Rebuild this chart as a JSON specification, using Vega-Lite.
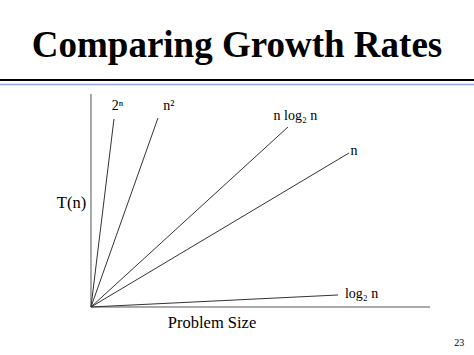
{
  "$schema": "https://vega.github.io/schema/vega-lite/v6.json",
  "width": 474,
  "height": 355,
  "padding": 0,
  "autosize": {"type": "none"},
  "background": "white",
  "title": {
    "text": "Comparing Growth Rates",
    "font": "Liberation Serif",
    "fontSize": 37,
    "fontWeight": "bold",
    "color": "black",
    "anchor": "middle",
    "baseline": "alphabetic",
    "offset": -94
  },
  "config": {"view": {"stroke": null}},
  "layer": [
    {
      "data": {"values": [{"y": 106.57}]},
      "mark": {"type": "rule", "color": "black", "strokeWidth": 2},
      "encoding": {
        "y": {"field": "y", "type": "quantitative", "scale": {"domain": [-22.54, 144.13], "nice": false, "zero": false}, "axis": null}
      }
    },
    {
      "data": {"values": [{"y": 104.46}]},
      "mark": {"type": "rule", "color": "#98a4e0", "strokeWidth": 1.5},
      "encoding": {
        "y": {"field": "y", "type": "quantitative"}
      }
    },
    {
      "data": {"values": [
        {"part": "T(n) axis", "x": 0, "y": 0, "x2": 0, "y2": 100},
        {"part": "Problem Size axis", "x": 0, "y": 0, "x2": 100, "y2": 0}
      ]},
      "mark": {"type": "rule", "color": "#555555", "strokeWidth": 1},
      "encoding": {
        "x": {"field": "x", "type": "quantitative", "scale": {"domain": [-26.84, 112.98], "nice": false, "zero": false}, "axis": null},
        "y": {"field": "y", "type": "quantitative"},
        "x2": {"field": "x2"},
        "y2": {"field": "y2"}
      }
    },
    {
      "data": {"values": [
        {"series": "2^n", "x": 0, "y": 0, "x2": 6.78, "y2": 88.26},
        {"series": "n^2", "x": 0, "y": 0, "x2": 19.76, "y2": 88.73},
        {"series": "n log2 n", "x": 0, "y": 0, "x2": 58.11, "y2": 84.51},
        {"series": "n", "x": 0, "y": 0, "x2": 76.11, "y2": 72.3},
        {"series": "log2 n", "x": 0, "y": 0, "x2": 72.86, "y2": 5.63}
      ]},
      "mark": {"type": "rule", "color": "#333333", "strokeWidth": 1},
      "encoding": {
        "x": {"field": "x", "type": "quantitative"},
        "y": {"field": "y", "type": "quantitative"},
        "x2": {"field": "x2"},
        "y2": {"field": "y2"}
      }
    },
    {
      "data": {"values": [
        {"label": "2ⁿ", "x": 7.8, "y": 92.3},
        {"label": "n²", "x": 23.0, "y": 92.5},
        {"label": "n log₂ n", "x": 60.3, "y": 87.8},
        {"label": "n", "x": 77.6, "y": 71.4},
        {"label": "log₂ n", "x": 79.8, "y": 4.2}
      ]},
      "mark": {"type": "text", "font": "Liberation Serif", "fontSize": 14, "color": "black", "align": "center", "baseline": "alphabetic"},
      "encoding": {
        "x": {"field": "x", "type": "quantitative"},
        "y": {"field": "y", "type": "quantitative"},
        "text": {"field": "label"}
      }
    },
    {
      "data": {"values": [
        {"label": "Problem Size", "x": 35.7, "y": -9.86},
        {"label": "T(n)", "x": -5.75, "y": 46.5}
      ]},
      "mark": {"type": "text", "font": "Liberation Serif", "fontSize": 16.5, "color": "black", "align": "center", "baseline": "alphabetic"},
      "encoding": {
        "x": {"field": "x", "type": "quantitative"},
        "y": {"field": "y", "type": "quantitative"},
        "text": {"field": "label"}
      }
    },
    {
      "data": {"values": [{"label": "23", "x": 108.6, "y": -18.3}]},
      "mark": {"type": "text", "font": "Liberation Serif", "fontSize": 10, "color": "black", "align": "center", "baseline": "alphabetic"},
      "encoding": {
        "x": {"field": "x", "type": "quantitative"},
        "y": {"field": "y", "type": "quantitative"},
        "text": {"field": "label"}
      }
    }
  ]
}
